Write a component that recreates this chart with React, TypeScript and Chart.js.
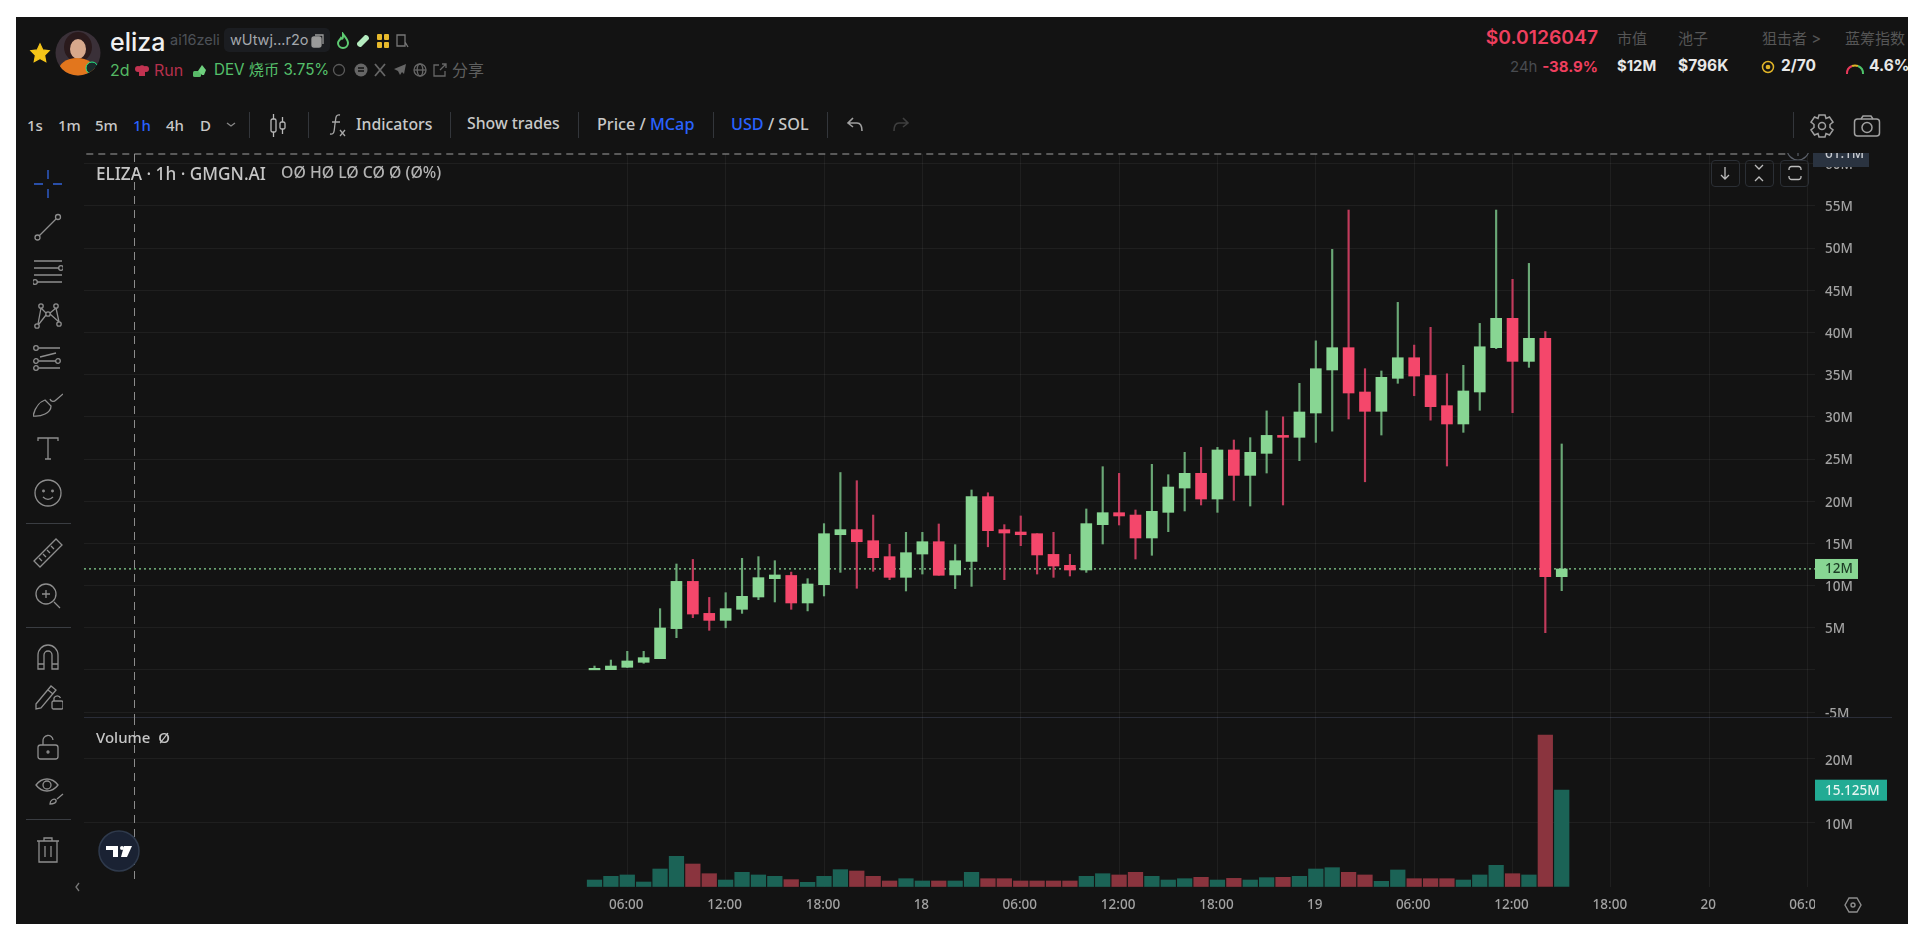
import React, { useEffect, useRef } from "react";
import { Chart, registerables } from "chart.js";

Chart.register(...registerables);

const barIndex = Array.from({ length: 60 }, (_, i) => i);
const opens = [0.02,0.04,0.32,0.91,1.34,4.9,10.5,6.71,5.88,7.19,8.65,10.82,11.2,7.94,10.11,16.03,16.63,15.32,13.43,10.98,13.74,15.2,11.26,12.87,20.54,16.63,16.35,16.15,13.7,12.4,11.85,17.22,18.64,18.36,15.64,18.68,21.56,23.3,20.26,26.07,23.06,25.67,27.8,27.57,30.45,35.55,38.19,32.94,30.65,34.56,37,34.9,31.32,29.15,32.94,38.19,41.67,36.57,39.3,11.06];
const closes = [0.2,0.47,1.07,1.46,4.98,10.5,6.63,5.88,7.27,8.73,10.94,11.26,7.94,10.19,16.15,16.63,15.2,13.31,10.98,13.9,15.2,11.22,12.95,20.54,16.51,16.23,16.03,13.63,12.32,11.85,17.34,18.64,18.25,15.64,18.8,21.68,23.3,20.26,26.07,23.06,25.79,27.8,27.57,30.57,35.7,38.19,32.82,30.65,34.68,37,34.83,31.2,29.15,33.06,38.3,41.67,36.57,39.3,11.06,11.97];
const highs = [0.47,1.18,2.21,2.21,7.27,12.56,13.1,8.6,9.16,13.23,13.43,12.95,11.6,10.82,17.34,23.4,22.43,18.36,14.89,16.31,16.31,17.3,14.85,21.33,21,17.22,18.25,16.15,16.31,13.7,19.08,24.09,23.3,18.96,24.37,23.14,25.79,26.38,26.38,27.25,27.53,30.7,30,33.97,39,49.84,54.5,35.7,35.43,43.56,38.5,40.6,35.1,36.1,41.07,54.5,46.29,48.18,40.09,26.78];
const lows = [0,0.04,0.3,0.79,1.34,3.83,6.2,4.7,5,6.71,8.33,8.06,7.19,7,8.77,11.57,9.68,11.69,10.7,9.36,11.37,11.22,9.64,9.91,14.6,10.7,14.73,11.37,10.98,11.14,11.57,14.93,17.18,13.15,13.59,16.39,18.84,19.55,18.68,20.1,19.43,23.34,19.55,24.8,26.97,28.3,29.74,22.3,27.84,33.97,32.5,29.6,24.17,28.16,30.77,38.07,30.49,35.86,4.42,9.4];
const volumes = [1.09,1.67,1.88,0.78,2.81,4.79,3.59,2.08,1.09,2.29,1.88,1.67,1.15,0.73,1.67,2.71,2.5,1.67,0.94,1.3,0.94,0.94,0.94,2.29,1.3,1.3,0.94,0.94,0.94,0.94,1.67,2.08,1.88,2.29,1.67,1.09,1.3,1.51,1.09,1.35,1.09,1.46,1.51,1.67,2.81,3.02,2.29,1.88,0.89,2.66,1.3,1.3,1.3,1.09,1.88,3.39,2.08,1.88,23.75,15.125];
const timeTickPositions = [2,8,14,20,26,32,38,44,50,56,62,68,74];
const timeTickLabels = ["06:00","12:00","18:00","18","06:00","12:00","18:00","19","06:00","12:00","18:00","20","06:00"];
const priceTicks = [-5,0,5,10,15,20,25,30,35,40,45,50,55,60];
const volumeTicks = [0,10,20];
const currentPrice = 11.97;
const currentPriceLabel = "12M";
const highestPrice = 61.14;
const highestPriceLabel = "61.1M";
const lastVolume = 15.125;
const lastVolumeLabel = "15.125M";
const crosshairIndex = -28.08;

const X_MIN = -31.14, X_MAX = 74.45;
const BG = "#131313";
const UP = "#88D693", DOWN = "#F4476B";
const GRID = "rgba(255,255,255,0.055)";
const AXIS = "#a2a2a2";
const UI_FONT = '"Noto Sans", "Noto Sans CJK SC", sans-serif';
const HEAD_FONT = 'Inter, "Noto Sans CJK SC", sans-serif';

const isUp = (i: number) => closes[i] >= opens[i];
const fixAxis = (width: number) => (s: any) => {
  s.width = width;
  s.paddingTop = 0;
  s.paddingBottom = 0;
};
const xAxis = (display: boolean) => ({
  type: "linear",
  min: X_MIN,
  max: X_MAX,
  offset: false,
  display: true,
  afterBuildTicks: (s: any) => {
    s.ticks = timeTickPositions.map((value) => ({ value }));
  },
  afterFit: (s: any) => {
    s.height = display ? 37 : 0;
    s.paddingLeft = 0;
    s.paddingRight = 0;
  },
  grid: { color: GRID, drawTicks: false, offset: false },
  border: { display: false },
  ticks: {
    display,
    autoSkip: false,
    maxRotation: 0,
    padding: 10,
    labelOffset: -1,
    color: AXIS,
    font: { family: UI_FONT, size: 13.5, weight: 500 },
    callback: (v: number) => timeTickLabels[timeTickPositions.indexOf(v)] ?? "",
  },
});
const drawCrosshair = (chart: any, top: number, bottom: number) => {
  const { ctx, scales } = chart;
  const px = Math.round(scales.x.getPixelForValue(crosshairIndex)) + 0.5;
  ctx.save();
  ctx.strokeStyle = "#8c8c8c";
  ctx.lineWidth = 1;
  ctx.setLineDash([8, 6]);
  ctx.beginPath();
  ctx.moveTo(px, top);
  ctx.lineTo(px, bottom);
  ctx.stroke();
  ctx.restore();
};
const drawTag = (chart: any, left: number, right: number, top: number, bottom: number, cy: number, fill: string, color: string, text: string, weight = 500) => {
  const { ctx } = chart;
  ctx.save();
  ctx.fillStyle = fill;
  ctx.fillRect(left, top, right - left, bottom - top);
  ctx.fillStyle = color;
  ctx.font = `${weight} 13.5px ${UI_FONT}`;
  ctx.textAlign = "left";
  ctx.textBaseline = "middle";
  ctx.fillText(text, chart.chartArea.right + 10, cy);
  ctx.restore();
};

const T = ({ x, y, c = "#c8c8c8", s = 16, w = 500, f = UI_FONT, r, children }: any) => (
  <div style={{ position: "absolute", left: r === undefined ? x : undefined, right: r === undefined ? undefined : 1924 - r, top: y, transform: "translateY(-50%)", color: c, fontSize: s, fontWeight: w, fontFamily: f, whiteSpace: "pre", lineHeight: 1 }}>{children}</div>
);
const Ic = ({ x, y, w = 30, h = 30, c = "#8e8e8e", sw = 1.3, children }: any) => (
  <svg style={{ position: "absolute", left: x - w / 2, top: y - h / 2 }} width={w} height={h} viewBox={`${-w / 2} ${-h / 2} ${w} ${h}`} fill="none" stroke={c} strokeWidth={sw}>{children}</svg>
);
const Rule = ({ x, y, w = 1, h = 1, c = "#33363b" }: any) => (
  <div style={{ position: "absolute", left: x, top: y, width: w, height: h, background: c }} />
);

function Header() {
  return (
    <>
      <Ic x={40} y={53} w={22} h={22} c="#f5c518"><path d="M0-9 2.800-3 9-2.200 4.500 2.200 5.700 8.500 0 5.500-5.700 8.500-4.500 2.200-9-2.200-2.800-3Z" fill="#f5c518" /></Ic>
      <svg style={{ position: "absolute", left: 55, top: 30 }} width={46} height={46} viewBox="0 0 46 46">
        <defs><clipPath id="av"><ellipse cx="23" cy="23" rx="22.500" ry="22.500" /></clipPath></defs>
        <g clipPath="url(#av)">
          <rect width="46" height="46" fill="#3a3038" />
          <ellipse cx="23" cy="17" rx="14" ry="15" fill="#2a1a1c" />
          <ellipse cx="23" cy="19" rx="8" ry="10" fill="#d7a88c" />
          <ellipse cx="22" cy="42" rx="19" ry="14" fill="#e2761d" />
          <circle cx="37" cy="38" r="6" fill="#1a2a2a" stroke="#2e8" strokeWidth="1" />
        </g>
      </svg>
      <T x={110} y={42} c="#f0f0f0" s={25} w={500} f={HEAD_FONT}>eliza</T>
      <T x={170} y={40} c="#4d5157" s={14.5} w={400} f={HEAD_FONT}>ai16zeli</T>
      <div style={{ position: "absolute", left: 224, top: 28, width: 106, height: 24, borderRadius: 5, background: "#1b1d21" }} />
      <T x={230} y={40} c="#a4a8ad" s={14.500} w={400} f={HEAD_FONT}>wUtwj...r2o</T>
      <Ic x={318} y={41} w={16} h={16} c="#9a9a9a"><rect x="-6" y="-4" width="9" height="10" rx="2" fill="#9a9a9a" /><path d="M-3-6H5V3" /></Ic>
      <Ic x={343} y={41} w={16} h={18} c="#5ecb72" sw={2}><path d="M0-7C3-3 5-1 5 2A5 5 0 0 1-5 2C-5 0-3-1-2-3 0-1 0-4 0-7Z" /></Ic>
      <Ic x={363} y={41} w={16} h={16} c="#d8f0dc" sw={0}><path d="M-6 2 2-6A3.500 3.500 0 0 1 6-2L-2 6A3.500 3.500 0 0 1-6 2Z" fill="#b5ecc0" /></Ic>
      <Ic x={383} y={41} w={16} h={16} c="#e7b92c" sw={0}><rect x="-6" y="-7" width="5" height="6" rx="1" fill="#e7b92c" /><rect x="1" y="-7" width="5" height="6" rx="1" fill="#e7b92c" /><rect x="-6" y="1" width="5" height="6" rx="1" fill="#e7b92c" /><rect x="1" y="1" width="5" height="6" rx="1" fill="#e7b92c" /></Ic>
      <Ic x={402} y={41} w={16} h={16} c="#777"><path d="M-5-6H3L3 5H-5ZM3 1 6 6" /></Ic>

      <T x={110} y={70} c="#55b964" s={16} w={400} f={HEAD_FONT}>2d</T>
      <Ic x={142} y={70} w={16} h={16} c="#b8304c" sw={0}><path d="M-3 6H3V2A4 4 0 1 0-3 2Z" fill="#c23351" /><circle cx="-4" cy="-1" r="3" fill="#c23351" /><circle cx="4" cy="-1" r="3" fill="#c23351" /></Ic>
      <T x={154} y={70} c="#b5304c" s={16} w={400} f={HEAD_FONT}>Run</T>
      <Ic x={200} y={71} w={18} h={18} c="#59b968" sw={0}><rect x="-7" y="0" width="8" height="6" rx="1.500" fill="#59b968" /><path d="M-2 0 2-6 6-1 4 4 2 4Z" fill="#6fd07e" /></Ic>
      <T x={214} y={70} c="#55c06b" s={15.2} w={400} f={HEAD_FONT}>DEV 烧币 3.75%</T>
      <Ic x={339} y={70} w={16} h={16} c="#5a5a5a"><circle r="5.500" /></Ic>
      <Ic x={361} y={70} w={16} h={16} c="#666" sw={0}><circle r="6.500" fill="#666" /><path d="M-3-2H3M-3 1H3" stroke="#131313" strokeWidth="1.300" /></Ic>
      <Ic x={380} y={70} w={16} h={16} c="#666" sw={1.800}><path d="M-5-6 5 6M5-6-5 6" /></Ic>
      <Ic x={400} y={70} w={16} h={16} c="#666" sw={0}><path d="M6-6-6-1-2 1 0 5 2 2 4 4Z" fill="#666" /></Ic>
      <Ic x={420} y={70} w={16} h={16} c="#666"><circle r="6" /><ellipse rx="2.800" ry="6" /><path d="M-6 0H6" /></Ic>
      <Ic x={440} y={70} w={16} h={16} c="#666"><path d="M-1-5H-6V6H5V1M0 0 6-6M2-6H6V-2" /></Ic>
      <T x={452} y={70} c="#5f5f5f" s={16} w={400} f={HEAD_FONT}>分享</T>

      <T r={1598} y={38} c="#ef3f5e" s={19.3} w={600} f={HEAD_FONT}>$0.0126047</T>
      <T x={1510} y={66} c="#484b50" s={15} w={400} f={HEAD_FONT}>24h</T>
      <T r={1598} y={66} c="#ef3f5e" s={15} w={700} f={HEAD_FONT}>-38.9%</T>
      <T x={1617} y={38} c="#565656" s={15} w={400} f={HEAD_FONT}>市值</T>
      <T x={1617} y={66} c="#e8e8e8" s={14.800} w={700} f={HEAD_FONT}>$12M</T>
      <T x={1678} y={38} c="#565656" s={15} w={400} f={HEAD_FONT}>池子</T>
      <T x={1678} y={66} c="#e8e8e8" s={15.500} w={700} f={HEAD_FONT}>$796K</T>
      <T x={1762} y={38} c="#565656" s={15} w={400} f={HEAD_FONT}>狙击者 &gt;</T>
      <Ic x={1768} y={67} w={16} h={16} c="#e0b428" sw={1.500}><circle r="5.500" /><circle r="1.600" fill="#e0b428" /></Ic>
      <T x={1781} y={66} c="#e8e8e8" s={15.500} w={700} f={HEAD_FONT}>2/70</T>
      <T x={1845} y={38} c="#565656" s={15} w={400} f={HEAD_FONT}>蓝筹指数</T>
      <Ic x={1855} y={69} w={22} h={16} c="#e0b428" sw={2}><path d="M-8 5A8 8 0 0 1-3-3" stroke="#e8395a" /><path d="M-3-3A8 8 0 0 1 3-3" stroke="#e0b428" /><path d="M3-3A8 8 0 0 1 8 5" stroke="#4ec46a" /></Ic>
      <T x={1869} y={66} c="#e8e8e8" s={15.500} w={700} f={HEAD_FONT}>4.6%</T>
    </>
  );
}

function Toolbar() {
  return (
    <>
      <T x={27} y={125} s={15}>1s</T>
      <T x={58} y={125} s={15}>1m</T>
      <T x={95} y={125} s={15}>5m</T>
      <T x={133} y={125} s={15} c="#2962ff">1h</T>
      <T x={166} y={125} s={15}>4h</T>
      <T x={200} y={125} s={15}>D</T>
      <Ic x={231} y={124} w={12} h={10} c="#888"><path d="M-4-1 0 2 4-1" /></Ic>
      <Rule x={249} y={112} h={26} />
      <Ic x={278} y={126} w={24} h={26} c="#b9b9b9"><rect x="-7" y="-7" width="5" height="13" rx="1.500" /><path d="M-4.500-12V-7M-4.500 6V11" /><rect x="2" y="-4" width="5" height="7" rx="1.500" /><path d="M4.500-9V-4M4.500 3V8" /></Ic>
      <Rule x={308} y={112} h={26} />
      <Ic x={337} y={126} w={24} h={28} c="#a8a8a8"><path d="M3-11C-2-12-1-7-2-2-3 4-2 9-7 8M-5-4H3" /><path d="M3 4 8 10M8 4 3 10" /></Ic>
      <T x={356} y={125} s={15.8}>Indicators</T>
      <Rule x={450} y={112} h={26} />
      <T x={467} y={124} s={15.8}>Show trades</T>
      <Rule x={578} y={112} h={26} />
      <T x={597} y={124} s={16.2}>Price / <span style={{ color: "#2962ff" }}>MCap</span></T>
      <Rule x={713} y={112} h={26} />
      <T x={731} y={124} s={16.2}><span style={{ color: "#2962ff" }}>USD</span> / SOL</T>
      <Rule x={827} y={112} h={26} />
      <Ic x={855} y={125} w={22} h={18} c="#a0a0a0" sw={1.600}><path d="M-2-7-7-2-2 2M-7-2H2C6-2 7 1 7 6" /></Ic>
      <Ic x={901} y={125} w={22} h={18} c="#3f3f3f" sw={1.600}><path d="M2-7 7-2 2 2M7-2H-2C-6-2-7 1-7 6" /></Ic>
      <Rule x={1793} y={112} h={26} />
      <Ic x={1822} y={126} w={28} h={28} c="#a0a0a0" sw={1.500}><circle r="3.500" /><path d="M-3-11H3L4-7.500 7.500-9 11-4 8-1.500V1.500L11 4 7.500 9 4 7.500 3 11H-3L-4 7.500-7.500 9-11 4-8 1.500V-1.500L-11-4-7.500-9-4-7.500Z" /></Ic>
      <Ic x={1867} y={126} w={30} h={26} c="#a0a0a0" sw={1.500}><rect x="-12.500" y="-7" width="25" height="17" rx="3" /><circle cy="1.500" r="5" /><path d="M-6-7-4-10H4L6-7" /></Ic>

      {[1711, 1745, 1780].map((bx) => (
        <div key={bx} style={{ position: "absolute", left: bx, top: 160, width: 29, height: 27, border: "1px solid #2b2f35", borderRadius: 4, boxSizing: "border-box" }} />
      ))}
      <Ic x={1725} y={173} w={18} h={18} c="#bdbdbd"><path d="M0-6V6M-4 2 0 6 4 2" /></Ic>
      <Ic x={1759} y={173} w={18} h={22} c="#bdbdbd"><path d="M-4-8 0-4 4-8M-4 8 0 4 4 8" /></Ic>
      <Ic x={1795} y={173} w={20} h={20} c="#bdbdbd"><path d="M-6-3V-4A2.500 2.500 0 0 1-3.500-6.500H3.500A2.500 2.500 0 0 1 6-4V-3M-6 3V4A2.500 2.500 0 0 0-3.500 6.500H3.500A2.500 2.500 0 0 0 6 4V3" /></Ic>
    </>
  );
}

function SideBar() {
  const sep = [523, 627, 819];
  return (
    <>
      <Ic x={48} y={184} w={32} h={32} c="#2a4fa8" sw={1.800}><path d="M0-14V-5M0 5V14M-14 0H-5M5 0H14" /></Ic>
      <Ic x={48} y={227}><circle cx="-10.500" cy="10.500" r="2.500" /><circle cx="10" cy="-10" r="2.500" /><path d="M-8.500 8.500 8-8" /></Ic>
      <Ic x={48} y={272}><path d="M-14-11H14M-14-4H11M-14 3H14M-11 10H14" /><circle cx="13" cy="-4" r="2.300" /><circle cx="-13" cy="10" r="2.300" /></Ic>
      <Ic x={48} y={316}><circle cx="-7" cy="-10" r="2.200" /><circle cx="8" cy="-10" r="2.200" /><circle cx="0" cy="-2" r="2.200" /><circle cx="-11" cy="10" r="2.200" /><circle cx="11" cy="8" r="2.200" /><path d="M-7-8-10 8M-9 8-2-1M2-2 11 6M8-8 2-3M8-8 11 6M-7-8-2-3" /></Ic>
      <Ic x={48} y={360}><circle cx="-12" cy="-12" r="2.300" /><circle cx="-12" cy="1" r="2.300" /><circle cx="10" cy="1" r="2.300" /><circle cx="-12" cy="8" r="2.300" /><path d="M-9-12H12M-9 1H8M-9 8H12M-8-3 8-7" /></Ic>
      <Ic x={48} y={405}><path d="M-15 11C-13 3-9-3-3-5L3 1C3 8-7 12-15 11Z" /><path d="M2-6C3-3 6-3 8-5L15-11" /></Ic>
      <Ic x={48} y={448}><path d="M-10-7V-10H10V-7M0-10V11M-3 11H3" /></Ic>
      <Ic x={48} y={493}><circle r="13" /><circle cx="-4.500" cy="-2" r=".8" /><circle cx="4.500" cy="-2" r=".8" /><path d="M-5 4C-2 7 2 7 5 4" /></Ic>
      {sep.map((y) => <Rule key={y} x={26} y={y} w={45} c="#3a3d42" />)}
      <Ic x={48} y={553}><path d="M-14 8 8-14 14-8-8 14ZM-9 5-6 8M-5 1-2 4M-1-3 2 0M3-7 6-4" /></Ic>
      <Ic x={48} y={596}><circle cx="-2" cy="-2" r="10" /><path d="M-6-2H2M-2-6V2M6 6 12 12" /></Ic>
      <Ic x={48} y={657}><path d="M-10 12V-2A10 10 0 0 1 10-2V12H4V-2A4 4 0 0 0-4-2V12ZM-10 7H-4M4 7H10" /></Ic>
      <Ic x={48} y={698}><path d="M-12 6 3-12 8-8-7 10-12 11ZM0-8 5-4" /><rect x="4" y="3" width="11" height="8" rx="1.500" /><path d="M6 3V0A3.500 3.500 0 0 1 12.500 0" /></Ic>
      <Ic x={48} y={747}><rect x="-10" y="-2" width="20" height="14" rx="2.500" /><path d="M-5-2V-6A5 5 0 0 1 5-7" /><circle cy="5" r="1" /></Ic>
      <Ic x={47} y={785}><path d="M-11 0C-5-8 5-8 11 0 5 8-5 8-11 0Z" /><circle r="4" /></Ic>
      <Ic x={56} y={799} w={18} h={14}><path d="M-6 5C-6 1-2-1 0 1 1 4-3 5-6 5ZM1 0 7-5" /></Ic>
      <Ic x={48} y={850}><path d="M-11-9H11M-9-9V12H9V-9M-4-9V-12H4V-9M-3-4V7M3-4V7" /></Ic>
      <Ic x={77} y={887} w={10} h={14} c="#777"><path d="M2-4-1 0 2 4" /></Ic>
      <Ic x={119} y={851} w={44} h={44} c="#2f3a4c" sw={1.500}>
        <circle r="20" fill="#1a2233" />
        <path d="M-13-5H-1V6H-6V-1H-13Z" fill="#fff" stroke="none" />
        <circle cx="3" cy="-3" r="2" fill="#fff" stroke="none" />
        <path d="M5-5H13L8 6H2Z" fill="#fff" stroke="none" />
      </Ic>
      <Ic x={1853} y={905} w={22} h={22} c="#8e8e8e" sw={1.400}><path d="M-8 0-4-7H4L8 0 4 7H-4Z" /><circle r="2" /></Ic>
    </>
  );
}

export default function App() {
  const priceRef = useRef<HTMLCanvasElement>(null);
  const volumeRef = useRef<HTMLCanvasElement>(null);

  useEffect(() => {
    const price = new Chart(priceRef.current!, {
      type: "bar",
      data: {
        datasets: [
          {
            label: "body",
            order: 0,
            grouped: false,
            barThickness: 11,
            backgroundColor: barIndex.map((i) => (isUp(i) ? UP : DOWN)),
            data: barIndex.map((i) => ({ x: i, y: [opens[i], closes[i]] })),
          },
          {
            label: "wick",
            order: 1,
            grouped: false,
            barThickness: 1.5,
            backgroundColor: barIndex.map((i) => (isUp(i) ? "#6aa876" : "#c23b5c")),
            data: barIndex.map((i) => ({ x: i, y: [lows[i], highs[i]] })),
          },
          {
            type: "line",
            label: "current",
            order: 2,
            borderColor: UP,
            borderWidth: 1.2,
            borderDash: [2, 3],
            pointRadius: 0,
            data: [{ x: X_MIN, y: currentPrice }, { x: X_MAX, y: currentPrice }],
          },
          {
            type: "line",
            label: "highest",
            order: 3,
            clip: 3,
            borderColor: "#a0a0a0",
            borderWidth: 1,
            borderDash: [7, 5],
            pointRadius: 0,
            data: [{ x: -31, y: highestPrice }, { x: 72.7, y: highestPrice }],
          },
        ] as any,
      },
      options: {
        animation: false,
        responsive: false,
        events: [],
        layout: { padding: { top: 1, bottom: 6 } },
        plugins: { legend: { display: false }, tooltip: { enabled: false } },
        scales: {
          x: xAxis(false) as any,
          y: {
            position: "right",
            min: -5.57,
            max: highestPrice,
            afterBuildTicks: (s: any) => {
              s.ticks = priceTicks.map((value) => ({ value }));
            },
            afterFit: fixAxis(85),
            grid: { color: GRID, drawTicks: false },
            border: { display: false },
            ticks: {
              autoSkip: false,
              padding: 10,
              labelOffset: 1.5,
              crossAlign: "near",
              color: AXIS,
              font: { family: UI_FONT, size: 13.5, weight: 500 },
              callback: (v: number) => (v === 0 ? "" : `${v}M`),
            },
          } as any,
        },
      },
      plugins: [
        {
          id: "overlay",
          beforeDatasetsDraw(chart: any) {
            drawCrosshair(chart, 1, chart.chartArea.bottom);
          },
          afterDraw(chart: any) {
            const { ctx, chartArea } = chart;
            const { right } = chartArea;
            const y = chart.scales.y;
            const cy = y.getPixelForValue(currentPrice);
            drawTag(chart, right, right + 43, cy - 10, cy + 10, cy + 0.5, UP, "#1d3d26", currentPriceLabel);
            const hy = y.getPixelForValue(highestPrice);
            drawTag(chart, right - 2, right + 54, 0, hy + 13, hy, "#2a3340", "#c9ccd1", highestPriceLabel);
            ctx.save();
            ctx.strokeStyle = "#5a5f68";
            ctx.lineWidth = 1.2;
            ctx.beginPath();
            ctx.arc(right - 17, hy - 5, 11, 0, Math.PI * 2);
            ctx.moveTo(right - 17, 0);
            ctx.lineTo(right - 17, hy + 2);
            ctx.stroke();
            ctx.restore();
          },
        },
      ],
    } as any);

    const volume = new Chart(volumeRef.current!, {
      type: "bar",
      data: {
        datasets: [
          {
            label: "Volume",
            grouped: false,
            barThickness: 14.6,
            backgroundColor: barIndex.map((i) => (isUp(i) ? "#1b6356" : "#8a343e")),
            data: barIndex.map((i) => ({ x: i, y: volumes[i] })),
          },
        ] as any,
      },
      options: {
        animation: false,
        responsive: false,
        events: [],
        plugins: { legend: { display: false }, tooltip: { enabled: false } },
        scales: {
          x: xAxis(true) as any,
          y: {
            position: "right",
            min: 0,
            max: 26.56,
            afterBuildTicks: (s: any) => {
              s.ticks = volumeTicks.map((value) => ({ value }));
            },
            afterFit: fixAxis(85),
            grid: { color: (c: any) => (c.tick?.value === 0 ? "transparent" : GRID), drawTicks: false },
            border: { display: false },
            ticks: {
              autoSkip: false,
              padding: 10,
              labelOffset: 2,
              crossAlign: "near",
              color: AXIS,
              font: { family: UI_FONT, size: 13.5, weight: 500 },
              callback: (v: number) => (v === 0 ? "" : `${v}M`),
            },
          } as any,
        },
      },
      plugins: [
        {
          id: "overlay",
          beforeDatasetsDraw(chart: any) {
            drawCrosshair(chart, 0, chart.chartArea.bottom - 2);
          },
          afterDraw(chart: any) {
            const { ctx, chartArea } = chart;
            ctx.save();
            ctx.fillStyle = BG;
            ctx.fillRect(chartArea.right, chartArea.bottom + 1, 90, 40);
            ctx.restore();
            const cy = chart.scales.y.getPixelForValue(lastVolume);
            drawTag(chart, chartArea.right, chartArea.right + 72, cy - 10.5, cy + 10.5, cy + 0.5, "#22ab94", "#e6f5f1", lastVolumeLabel);
          },
        },
      ],
    } as any);

    return () => {
      price.destroy();
      volume.destroy();
    };
  }, []);

  return (
    <div style={{ position: "fixed", left: 0, top: 0, width: 1924, height: 942, background: "#fff", overflow: "hidden" }}>
      <div style={{ position: "absolute", left: 16, top: 17, width: 1891.5, height: 907, background: BG, overflow: "hidden", filter: "blur(0.45px)" }}>
        <div style={{ position: "absolute", left: -16, top: -17, width: 1924, height: 942 }}>
          <canvas ref={priceRef} width={1816} height={570} style={{ position: "absolute", left: 84, top: 153, width: 1816, height: 570 }} />
          <Rule x={84} y={716.5} w={1808} c="#2a2d38" />
          <canvas ref={volumeRef} width={1816} height={207} style={{ position: "absolute", left: 84, top: 717, width: 1816, height: 207 }} />
          <Header />
          <Toolbar />
          <SideBar />
          <T x={96} y={174} c="#c6c6c6" s={17.2}>ELIZA · 1h · GMGN.AI</T>
          <T x={281} y={173} c="#b4b4b4" s={15.8}>OØ HØ LØ CØ Ø (Ø%)</T>
          <T x={96} y={737} c="#c6c6c6" s={15}>Volume  Ø</T>
        </div>
      </div>
    </div>
  );
}
